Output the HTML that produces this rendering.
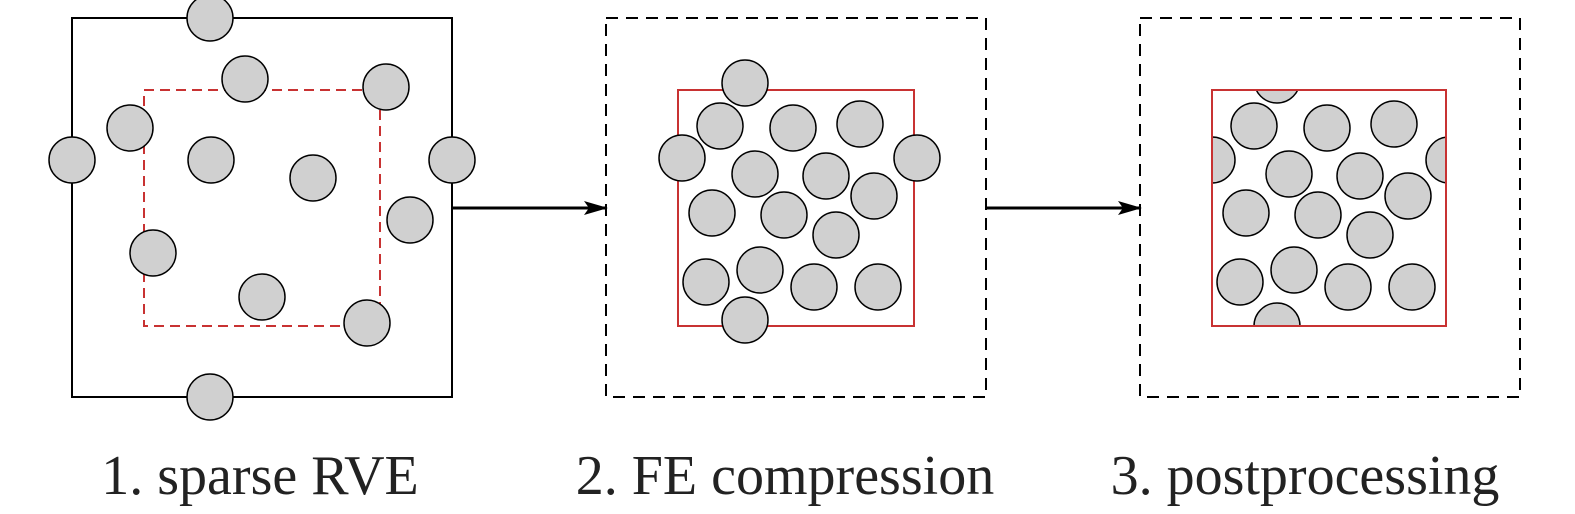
<!DOCTYPE html>
<html><head><style>html,body{margin:0;padding:0;background:#fff}</style></head>
<body>
<svg width="1575" height="509" viewBox="0 0 1575 509" xmlns="http://www.w3.org/2000/svg">
<defs>
<clipPath id="c3"><rect x="1212" y="90" width="234" height="236"/></clipPath>
<marker id="ar" markerWidth="24" markerHeight="14" refX="22" refY="7" orient="auto" markerUnits="userSpaceOnUse">
<path d="M0,0 L24,7 L0,14 L5,7 Z" fill="#000"/></marker>
</defs>
<g fill="#d0d0d0" stroke="#000" stroke-width="1.5">
<rect x="72" y="18" width="380" height="379" fill="none" stroke-width="2"/>
<rect x="144" y="90" width="236" height="236" fill="none" stroke="#c83232" stroke-width="2" stroke-dasharray="10,6"/>
<circle cx="210" cy="18" r="23"/><circle cx="245" cy="79" r="23"/><circle cx="386" cy="87" r="23"/>
<circle cx="130" cy="128" r="23"/><circle cx="72" cy="160" r="23"/><circle cx="211" cy="160" r="23"/>
<circle cx="313" cy="178" r="23"/><circle cx="452" cy="160" r="23"/><circle cx="410" cy="220" r="23"/>
<circle cx="153" cy="253" r="23"/><circle cx="262" cy="297" r="23"/><circle cx="367" cy="323" r="23"/>
<circle cx="210" cy="397" r="23"/>

<rect x="606" y="18" width="380" height="379" fill="none" stroke-width="2" stroke-dasharray="12,8"/>
<rect x="678" y="90" width="236" height="236" fill="none" stroke="#c83232" stroke-width="2"/>
<circle cx="745" cy="83" r="23"/><circle cx="720" cy="126" r="23"/><circle cx="793" cy="128" r="23"/>
<circle cx="860" cy="124" r="23"/><circle cx="682" cy="158" r="23"/><circle cx="755" cy="174" r="23"/>
<circle cx="826" cy="176" r="23"/><circle cx="917" cy="158" r="23"/><circle cx="874" cy="196" r="23"/>
<circle cx="712" cy="213" r="23"/><circle cx="784" cy="215" r="23"/><circle cx="836" cy="235" r="23"/>
<circle cx="706" cy="282" r="23"/><circle cx="760" cy="270" r="23"/><circle cx="814" cy="287" r="23"/>
<circle cx="878" cy="287" r="23"/><circle cx="745" cy="320" r="23"/>

<rect x="1140" y="18" width="380" height="379" fill="none" stroke-width="2" stroke-dasharray="12,8"/>
<g clip-path="url(#c3)">
<circle cx="1277" cy="80" r="23"/><circle cx="1254" cy="126" r="23"/><circle cx="1327" cy="128" r="23"/>
<circle cx="1394" cy="124" r="23"/><circle cx="1212" cy="160" r="23"/><circle cx="1289" cy="174" r="23"/>
<circle cx="1360" cy="176" r="23"/><circle cx="1449" cy="160" r="23"/><circle cx="1408" cy="196" r="23"/>
<circle cx="1246" cy="213" r="23"/><circle cx="1318" cy="215" r="23"/><circle cx="1370" cy="235" r="23"/>
<circle cx="1240" cy="282" r="23"/><circle cx="1294" cy="270" r="23"/><circle cx="1348" cy="287" r="23"/>
<circle cx="1412" cy="287" r="23"/><circle cx="1277" cy="326" r="23"/>
</g>
<rect x="1212" y="90" width="234" height="236" fill="none" stroke="#c83232" stroke-width="2"/>
</g>
<line x1="452" y1="208" x2="606" y2="208" stroke="#000" stroke-width="3" marker-end="url(#ar)"/>
<line x1="986" y1="208" x2="1140" y2="208" stroke="#000" stroke-width="3" marker-end="url(#ar)"/>
<g font-family="Liberation Serif, serif" font-size="56" text-anchor="middle" fill="#222">
<text x="260" y="494">1. sparse RVE</text>
<text x="785" y="494">2. FE compression</text>
<text x="1305" y="494">3. postprocessing</text>
</g>
</svg>
</body></html>
